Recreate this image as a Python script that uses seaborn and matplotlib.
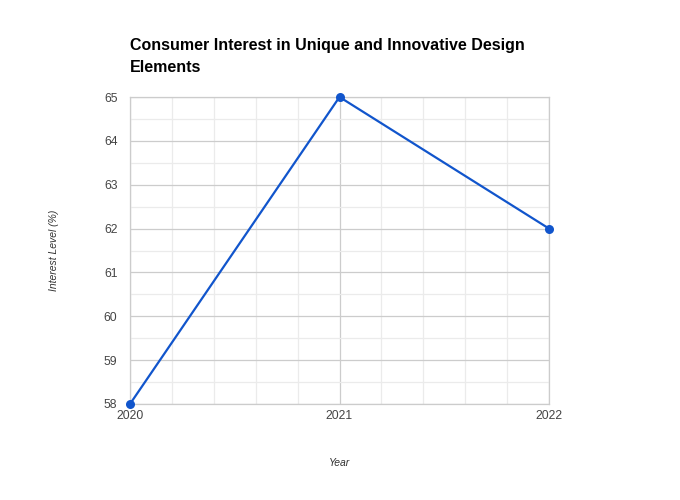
import pandas as pd
import seaborn as sns
from matplotlib import pyplot as plt
from matplotlib.ticker import MultipleLocator

years = [2020, 2021, 2022]
interest = [58, 65, 62]

df = pd.DataFrame({'Year': years, 'Interest': interest})

sns.set_style("white")
plt.rcParams['font.family'] = ['Arial', 'Liberation Sans', 'DejaVu Sans']

fig = plt.figure(figsize=(6.8, 5), dpi=100)
ax = fig.add_axes([130/680, 1 - 404/500, 419/680, 307/500])

sns.lineplot(data=df, x='Year', y='Interest', ax=ax, color='#1155cc',
             linewidth=1.6, marker='o', markersize=6.5, markeredgewidth=0,
             zorder=5, clip_on=False)

ax.set_xlim(2020, 2022)
ax.set_ylim(58, 65)
ax.xaxis.set_major_locator(MultipleLocator(1))
ax.xaxis.set_minor_locator(MultipleLocator(0.2))
ax.yaxis.set_major_locator(MultipleLocator(1))
ax.yaxis.set_minor_locator(MultipleLocator(0.5))
ax.grid(True, which='major', color='#cccccc', linewidth=0.9)
ax.grid(True, which='minor', color='#ebebeb', linewidth=0.9)
ax.set_axisbelow(True)
for s in ax.spines.values():
    s.set_color('#cccccc')
    s.set_linewidth(0.9)
ax.tick_params(which='both', length=0, labelsize=8.7, colors='#444444')
ax.tick_params(axis='y', pad=9)
ax.tick_params(axis='x', pad=4)

ax.set_xlabel('Year', fontsize=7.5, style='italic', color='#333333', labelpad=26)
ax.set_ylabel('Interest Level (%)', fontsize=7.5, style='italic', color='#333333', labelpad=32)

fig.text(130/680, 1 - 38/500, 'Consumer Interest in Unique and Innovative Design\nElements',
         fontsize=11.5, fontweight='bold', color='black', va='top', ha='left', linespacing=1.6)

fig.savefig('out.png', dpi=100)
